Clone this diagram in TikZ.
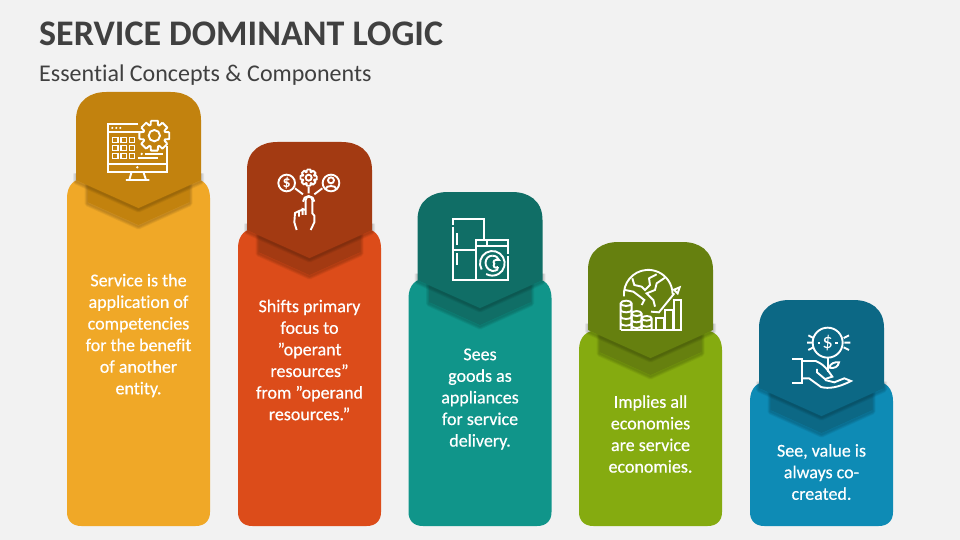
\documentclass[tikz,border=0pt]{standalone}
\usepackage{fontspec}
\setmainfont[Ligatures={NoCommon}]{Carlito}
\newfontfamily\semif[Ligatures={NoCommon},FakeBold=0.5]{Carlito}
\usetikzlibrary{calc}
\definecolor{bg}{HTML}{F2F2F2}
\definecolor{ink}{HTML}{404040}
\definecolor{yb}{HTML}{F0A827}\definecolor{yh}{HTML}{C2820E}
\definecolor{ob}{HTML}{DC4C1A}\definecolor{oh}{HTML}{A33A12}
\definecolor{tb}{HTML}{10958A}\definecolor{th}{HTML}{106E66}
\definecolor{gb}{HTML}{85AB10}\definecolor{gh}{HTML}{66800F}
\definecolor{bb}{HTML}{0E8BB5}\definecolor{bh}{HTML}{0C6885}
\tikzset{
  bodytext/.style={text=white,align=center,font=\semif\fontsize{18}{21.6}\selectfont,inner sep=0pt},
  ic/.style={draw=white,line width=1.9pt,line cap=butt,line join=miter,fill=none},
  zoomed/.style={x=0.3333pt,y=-0.3333pt}
}
\def\headshape{(-62.5,88) -- (0,116) -- (62.5,88) -- (62.5,28) .. controls (62.5,8) and (48,0) .. (32,0) -- (-32,0) .. controls (-48,0) and (-62.5,8) .. (-62.5,28) -- cycle}
\def\undershape{(-51,60) -- (51,60) -- (51,110) -- (0,133) -- (-51,110) -- cycle}
\newcommand{\softshadow}[1]{%
  \foreach \w in {6,4.5,3,1.5}{\draw[black,opacity=.05,line width=\w pt,line join=round,yshift=-1.5pt] #1;}}
% #1 cx, #2 head top, #3 body top, #4 body colour, #5 head colour
\newcommand{\column}[5]{%
  \begin{scope}[shift={(#1,#2)}]
    \pgfmathsetmacro\bt{#3-#2}\pgfmathsetmacro\bb{526-#2}
    \fill[#4] (-71.5,\bt+20) .. controls (-71.5,\bt+7) and (-64,\bt) .. (-52,\bt) -- (52,\bt) .. controls (64,\bt) and (71.5,\bt+7) .. (71.5,\bt+20) -- (71.5,\bb-14) .. controls (71.5,\bb-5) and (66,\bb) .. (57,\bb) -- (-57,\bb) .. controls (-66,\bb) and (-71.5,\bb-5) .. (-71.5,\bb-14) -- cycle;
    \softshadow{\undershape}
    \fill[#5] \undershape;
    \softshadow{(-62.5,80) -- (-62.5,88) -- (0,116) -- (62.5,88) -- (62.5,80)}
    \fill[#5] \headshape;
  \end{scope}}
\newcommand{\gear}[5]{% cx cy router rinner hole
  \draw[ic,line join=round] \foreach \a in {0,45,...,315}{
    ($(#1,#2)+(\a-13:#3)$) -- ($(#1,#2)+(\a+13:#3)$) -- ($(#1,#2)+(\a+19:#4)$) -- ($(#1,#2)+(\a+26:#4)$) -- ($(#1,#2)+(\a+32:#3)$)
  };
  \draw[ic] (#1,#2) circle (#5);}
\begin{document}
\begin{tikzpicture}[x=1pt,y=-1pt]
\useasboundingbox (0,0) rectangle (960,540);
\fill[bg] (0,0) rectangle (960,540);
\node[anchor=base west,inner sep=0pt,text=ink,font=\bfseries\fontsize{36}{40}\selectfont] (title) at (39,46) {SERVICE DOMINANT LOGIC};
\node[anchor=base west,inner sep=0pt,text=ink,font=\fontsize{24}{28}\selectfont] (subtitle) at (39,81.5) {Essential Concepts \& Components};

\column{138.5}{92}{178}{yb}{yh}
\column{309.5}{142}{228}{ob}{oh}
\column{480}{192}{278}{tb}{th}
\column{650.5}{242}{330}{gb}{gh}
\column{821.5}{300}{381}{bb}{bh}

\node[bodytext] (t1) at (138.5,335.5) {Service is the\\application of\\competencies\\for the benefit\\of another\\entity.};
\node[bodytext] (t2) at (309.5,360) {Shifts primary\\focus to\\”operant\\resources”\\from ”operand\\resources.”};
\node[bodytext] (t3) at (480,399) {Sees\\goods as\\appliances\\for service\\delivery.};
\node[bodytext] (t4) at (650.5,434) {Implies all\\economies\\are service\\economies.};
\node[bodytext] (t5) at (821.5,472) {See, value is\\always co-\\created.};

% icon 1: monitor and gear
\begin{scope}[shift={(60,85)},zoomed]
  \draw[ic] (235,118) -- (145,118) -- (145,260) -- (322,260) -- (322,182);
  \draw[ic] (145,236) -- (322,236) (145,140) -- (240,140);
  \foreach \x in {157,169,181}{\fill[white] (\x,129) circle (3.5);}
  \foreach \x in {158,183,208}{\foreach \y in {157,181,205}{\draw[ic,line width=1.5pt] (\x,\y) rectangle ++(16,16);}}
  \fill[white] (232,247) circle (4) (245,207) circle (4);
  \draw[ic] (215,260) -- (208,285) (250,260) -- (258,285) (198,285) -- (268,285);
  \draw[ic] (254,207) -- (308,207) (235,218) -- (295,218);
  \gear{283}{152}{46}{34}{17}
\end{scope}

% icon 2: hand and three circles
\begin{scope}[shift={(235,135)},zoomed]
  \draw[ic] (155,144) circle (25) (288,144) circle (25);
  \node[text=white,inner sep=0pt,font=\bfseries\fontsize{16}{16}\selectfont] (dollar2) at (155,144) {\$};
  \draw[ic] (288,136) circle (9);
  \draw[ic] (272,162) .. controls (272,150) and (304,150) .. (304,162);
  \gear{221}{128}{25}{18}{9}
  \draw[ic] (180,160) -- (204,178) (221,155) -- (221,175) (262,160) -- (238,178);
  \draw[ic] (204,200) arc (180:360:17);
  \draw[ic] (212,240) -- (212,195) arc (180:360:10) -- (232,235) -- (238,242) -- (238,262) -- (227,285);
  \draw[ic] (212,225) -- (203,222) -- (203,240) (203,224) -- (192,228) -- (192,245) (192,228) -- (180,234) -- (178,262) -- (185,285);
\end{scope}

% icon 3: fridge and washing machine
\begin{scope}[shift={(405,185)},zoomed]
  \draw[ic] (237,165) -- (237,103) -- (143,103) -- (143,119);
  \draw[ic] (143,125) -- (143,285) -- (308,285) -- (308,212);
  \draw[ic] (308,206) -- (308,165) -- (214,165) -- (214,285);
  \draw[ic] (143,195) -- (214,195) (214,183) -- (308,183) (246,165) -- (246,183);
  \draw[ic] (156,145) -- (156,180) (156,205) -- (156,240);
  \draw[ic] (230,253.5) arc (150:480:37);
  \draw[ic] (262,212) .. controls (238,212) and (232,250) .. (262,258) .. controls (275,258) and (282,252) .. (279,246);
  \draw[ic] (262,212) .. controls (272,212) and (280,218) .. (282,225) .. controls (268,222) and (262,230) .. (268,236) .. controls (262,244) and (270,252) .. (279,246);
\end{scope}

% icon 4: globe, coins and bars
\begin{scope}[shift={(575,235)},zoomed]
  \draw[ic] (147,184) arc (175:360:73);
  \draw[ic] (172,130) -- (178,150) -- (200,155) -- (210,165) -- (225,150) -- (222,130) -- (245,118);
  \draw[ic] (150,165) -- (175,170) -- (195,185) -- (208,195) -- (200,210);
  \draw[ic] (270,128) -- (245,145) -- (240,165) -- (215,175) -- (235,195) -- (240,215);
  \draw[ic] (228,230) -- (252,232) -- (298,175);
  \draw[ic] (314,157) -- (297,164) -- (308,175) -- cycle;
  \draw[ic] (137,285) -- (137,205) arc (180:360:16.5 and 8) -- (170,285);
  \draw[ic] (137,205) arc (180:0:16.5 and 8);
  \foreach \y in {225,245,265}{\draw[ic] (137,\y) arc (180:0:16.5 and 7);}
  \draw[ic] (170,285) -- (170,236) arc (180:360:15 and 8) -- (200,285);
  \draw[ic] (170,236) arc (180:0:15 and 7);
  \foreach \y in {255,272}{\draw[ic] (170,\y) arc (180:0:15 and 7);}
  \draw[ic] (200,285) -- (200,250) arc (180:360:15 and 7) -- (230,285);
  \draw[ic] (200,250) arc (180:0:15 and 7);
  \draw[ic] (200,268) arc (180:0:15 and 7);
  \draw[ic] (243,285) -- (243,250) -- (266,250) -- (266,285);
  \draw[ic] (270,285) -- (270,225) -- (293,225) -- (293,285);
  \draw[ic] (297,285) -- (297,195) -- (318,195) -- (318,285);
  \draw[ic] (137,285) -- (320,285);
\end{scope}

% icon 5: hand and coin plant
\begin{scope}[shift={(745,295)},zoomed]
  \draw[ic] (248,143) circle (45);
  \node[text=white,inner sep=0pt,font=\fontsize{21}{21}\selectfont] (dollar5) at (248,143) {\$};
  \draw[ic] (218,143) -- (226,143) (270,143) -- (278,143);
  \draw[ic] (186,143) -- (205,143) (190,121) -- (205,129) (190,165) -- (205,157);
  \draw[ic] (298,143) -- (316,143) (296,129) -- (312,121) (296,157) -- (312,165);
  \draw[ic] (248,188) -- (248,232);
  \draw[ic] (252,218) .. controls (256,205) and (270,200) .. (282,202) .. controls (280,215) and (268,222) .. (252,218);
  \draw[ic] (142,192) -- (172,192) -- (172,265) -- (142,265);
  \draw[ic] (172,198) -- (212,198) .. controls (230,205) and (240,215) .. (250,228) -- (262,245) -- (240,252) -- (216,232) -- (216,222);
  \draw[ic] (172,250) -- (192,250) -- (228,276) .. controls (250,282) and (280,278) .. (318,258) -- (298,250) -- (268,262) -- (240,255);
\end{scope}
\end{tikzpicture}
\end{document}
